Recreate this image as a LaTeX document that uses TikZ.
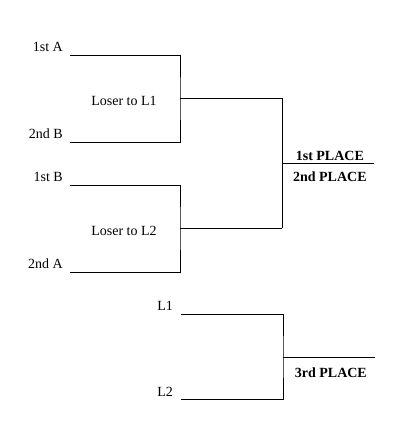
\documentclass[tikz,border=0pt]{standalone}
\usepackage{fontspec}
\setmainfont{Liberation Serif}
\usetikzlibrary{positioning,calc}

\tikzset{
	team/.style={anchor=base east, inner sep=0pt, font=\fontsize{14}{17}\selectfont},
	loser/.style={anchor=base, inner sep=0pt, font=\fontsize{14}{17}\selectfont},
	place/.style={anchor=base, inner sep=0pt, font=\bfseries\fontsize{14}{17}\selectfont},
	bracket/.style={line width=0.9pt, black}
}

\begin{document}
\begin{tikzpicture}[x=1pt,y=-1pt]
	\useasboundingbox (0,0) rectangle (413,431);

	% first round
	\foreach \ya/\yb/\ym/\ta/\tb/\lo in {55/142/98/1st A/2nd B/L1, 185/272/228/1st B/2nd A/L2}
	{
		\coordinate (\lo-a) at (70,\ya);
		\coordinate (\lo-b) at (70,\yb);
		\coordinate (\lo-v) at (180,\ym);
		\coordinate (\lo-w) at (282,\ym);
		\draw [bracket] (\lo-a) -| (\lo-v) |- (\lo-b);
		\draw [bracket] (\lo-v) -- (\lo-w);
		\node[team] (t-\lo-a) at ([xshift=-7pt,yshift=4pt]\lo-a) {\ta};
		\node[team] (t-\lo-b) at ([xshift=-7pt,yshift=4pt]\lo-b) {\tb};
		\node[loser] (lab-\lo) at (124,\ym+7) {Loser to \lo};
	}

	% final
	\coordinate (fin) at (282,163);
	\coordinate (fin-e) at (374,163);
	\draw [bracket] (L1-w) -- (L2-w);
	\draw [bracket] (fin) -- (fin-e);
	\node[place] (first) at ([yshift=3pt]$(fin)!0.52!(fin-e)$) {1st PLACE};
	\node[place] (second) at ([yshift=-18pt]$(fin)!0.52!(fin-e)$) {2nd PLACE};

	% third place
	\coordinate (c1) at (181,314);
	\coordinate (c2) at (181,399);
	\coordinate (cv) at (283,357);
	\coordinate (ce) at (375,357);
	\draw [bracket] (c1) -| (cv) |- (c2);
	\draw [bracket] (cv) -- (ce);
	\node[team] (t-c1) at ([xshift=-8pt,yshift=4pt]c1) {L1};
	\node[team] (t-c2) at ([xshift=-8pt,yshift=3pt]c2) {L2};
	\node[place] (third) at ([yshift=-20pt]$(cv)!0.52!(ce)$) {3rd PLACE};
\end{tikzpicture}
\end{document}
